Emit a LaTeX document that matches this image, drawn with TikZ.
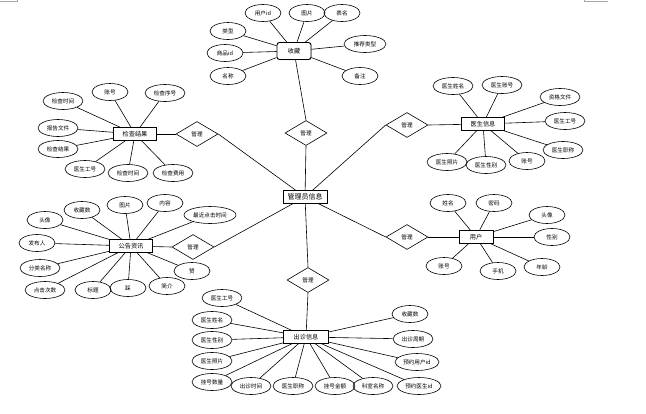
\documentclass[tikz,border=0pt]{standalone}
\usepackage{fontspec}
\newfontfamily\cjk{Noto Sans CJK SC}
\usetikzlibrary{shapes.geometric,shadows}
\begin{document}
\begin{tikzpicture}[x=1pt,y=-1pt,
  attr/.style={ellipse,draw,line width=0.6pt,minimum width=36pt,minimum height=17pt,inner sep=0.5pt,font=\cjk\fontsize{5.6}{6}\selectfont},
  ent/.style={rectangle,draw,line width=0.9pt,minimum width=43pt,minimum height=12.5pt,inner sep=1pt,fill=white,font=\cjk\fontsize{6.2}{7}\selectfont,drop shadow={shadow xshift=0.7pt,shadow yshift=-0.7pt,fill=black!45}},
  rel/.style={diamond,draw,line width=0.6pt,minimum width=42pt,minimum height=25pt,aspect=1.7,inner sep=0pt,fill=white,font=\cjk\fontsize{5.6}{6}\selectfont},
  conn/.style={line width=0.6pt},
  cornermark/.style={draw=black!35,line width=0.8pt}]
\useasboundingbox (0,0) rectangle (646,413);
% page corner marks
\coordinate (m1a) at (0,1.2); \coordinate (m1b) at (17,1.2); \coordinate (m1c) at (17,0);
\coordinate (m2a) at (608,1.2); \coordinate (m2b) at (584,1.2); \coordinate (m2c) at (584,0);
\draw[cornermark] (m1a) -- (m1b) -- (m1c);
\draw[cornermark] (m2a) -- (m2b) -- (m2c);

% centre
\node[ent,font=\cjk\fontsize{7}{8}\selectfont,minimum width=44pt] (c) at (305,197) {管理员信息};

% relationship diamonds
\node[rel] (dt) at (306,133) {管理};
\node[rel] (db) at (308,280) {管理};
\node[rel] (dru) at (407,125) {管理};
\node[rel] (drl) at (407,237) {管理};
\node[rel] (dlu) at (197,134) {管理};
\node[rel] (dll) at (193,247) {管理};

% entities
\node[ent,rounded corners=2.5pt,minimum width=34pt,minimum height=17pt] (sc) at (294,51) {收藏};
\node[ent] (ys) at (483,124) {医生信息};
\node[ent,minimum width=34pt] (yh) at (476,237) {用户};
\node[ent] (jc) at (135,134) {检查结果};
\node[ent] (gg) at (131,246) {公告资讯};
\node[ent,minimum width=45pt] (cz) at (306,337) {出诊信息};

% entity - relationship - centre
\draw[conn] (c) -- (dt.south); \draw[conn] (dt.north) -- (sc);
\draw[conn] (c) -- (db.north); \draw[conn] (db.south) -- (cz);
\draw[conn] (c) -- (dru.west); \draw[conn] (dru.east) -- (ys);
\draw[conn] (c) -- (drl.west); \draw[conn] (drl.east) -- (yh);
\draw[conn] (c) -- (dlu.east); \draw[conn] (dlu.west) -- (jc);
\draw[conn] (c) -- (dll.east); \draw[conn] (dll.west) -- (gg);

% 收藏 attributes
\node[attr] (sc1) at (263,13) {用户id};
\node[attr] (sc2) at (307,13) {图片};
\node[attr] (sc3) at (342,13) {表名};
\node[attr] (sc4) at (228,31) {类型};
\node[attr] (sc5) at (225,53) {商品id};
\node[attr] (sc6) at (228,76) {名称};
\node[attr,minimum width=42pt] (sc7) at (365,44) {推荐类型};
\node[attr] (sc8) at (360,76) {备注};
\foreach \a in {sc1,sc2,sc3,sc4,sc5,sc6,sc7,sc8} \draw[conn] (\a) -- (sc);

% 医生信息 attributes
\node[attr,minimum width=40pt] (ys1) at (453,86) {医生姓名};
\node[attr,minimum width=40pt] (ys2) at (502,85) {医生账号};
\node[attr,minimum width=40pt] (ys3) at (560,97) {资格文件};
\node[attr,minimum width=40pt] (ys4) at (565,121) {医生工号};
\node[attr,minimum width=40pt] (ys5) at (563,150) {医生职称};
\node[attr,minimum width=40pt] (ys6) at (447,162) {医生照片};
\node[attr,minimum width=40pt] (ys7) at (486,165) {医生性别};
\node[attr] (ys8) at (527,161) {账号};
\foreach \a in {ys1,ys2,ys3,ys4,ys5,ys6,ys7,ys8} \draw[conn] (\a) -- (ys);

% 用户 attributes
\node[attr] (yh1) at (448,203) {姓名};
\node[attr] (yh2) at (494,203) {密码};
\node[attr] (yh3) at (547,215) {头像};
\node[attr] (yh4) at (552,237) {性别};
\node[attr] (yh5) at (542,267) {年龄};
\node[attr] (yh6) at (498,271) {手机};
\node[attr] (yh7) at (444,266) {账号};
\foreach \a in {yh1,yh2,yh3,yh4,yh5,yh6,yh7} \draw[conn] (\a) -- (yh);

% 检查结果 attributes
\node[attr,minimum width=40pt] (jc1) at (63,101) {检查时间};
\node[attr] (jc2) at (110,92) {账号};
\node[attr,minimum width=40pt] (jc3) at (165,93) {检查序号};
\node[attr,minimum width=40pt] (jc4) at (58,128) {报告文件};
\node[attr,minimum width=40pt] (jc5) at (58,149) {检查结果};
\node[attr,minimum width=40pt] (jc6) at (85,169) {医生工号};
\node[attr,minimum width=40pt] (jc7) at (128,173) {检查时间};
\node[attr,minimum width=40pt] (jc8) at (173,173) {检查费用};
\foreach \a in {jc1,jc2,jc3,jc4,jc5,jc6,jc7,jc8} \draw[conn] (\a) -- (jc);

% 公告资讯 attributes
\node[attr] (gg1) at (45,220) {头像};
\node[attr] (gg2) at (37,243) {发布人};
\node[attr,minimum width=40pt] (gg3) at (40,268) {分类名称};
\node[attr,minimum width=40pt] (gg4) at (45,290) {点击次数};
\node[attr] (gg5) at (82,210) {收藏数};
\node[attr] (gg6) at (125,205) {图片};
\node[attr] (gg7) at (165,203) {内容};
\node[attr,minimum width=52pt] (gg8) at (210,215) {最近点击时间};
\node[attr] (gg9) at (192,271) {赞};
\node[attr] (gg10) at (93,290) {标题};
\node[attr] (gg11) at (128,288) {踩};
\node[attr] (gg12) at (167,286) {简介};
\foreach \a in {gg1,gg2,gg3,gg4,gg5,gg6,gg7,gg8,gg9,gg10,gg11,gg12} \draw[conn] (\a) -- (gg);

% 出诊信息 attributes
\node[attr,minimum width=40pt] (cz1) at (222,298) {医生工号};
\node[attr,minimum width=40pt] (cz2) at (212,320) {医生姓名};
\node[attr,minimum width=40pt] (cz3) at (212,340) {医生性别};
\node[attr,minimum width=40pt] (cz4) at (212,361) {医生照片};
\node[attr,minimum width=40pt] (cz5) at (212,382) {挂号数量};
\node[attr,minimum width=40pt] (cz6) at (251,386) {出诊时间};
\node[attr,minimum width=40pt] (cz7) at (293,386) {医生职称};
\node[attr,minimum width=40pt] (cz8) at (335,386) {挂号金额};
\node[attr,minimum width=40pt] (cz9) at (373,386) {科室名称};
\node[attr,minimum width=44pt] (cz10) at (419,386) {预约医生id};
\node[attr] (cz11) at (410,314) {收藏数};
\node[attr,minimum width=40pt] (cz12) at (413,339) {出诊周期};
\node[attr,minimum width=44pt] (cz13) at (417,362) {预约用户id};
\foreach \a in {cz1,cz2,cz3,cz4,cz5,cz6,cz7,cz8,cz9,cz10,cz11,cz12,cz13} \draw[conn] (\a) -- (cz);
\end{tikzpicture}
\end{document}
